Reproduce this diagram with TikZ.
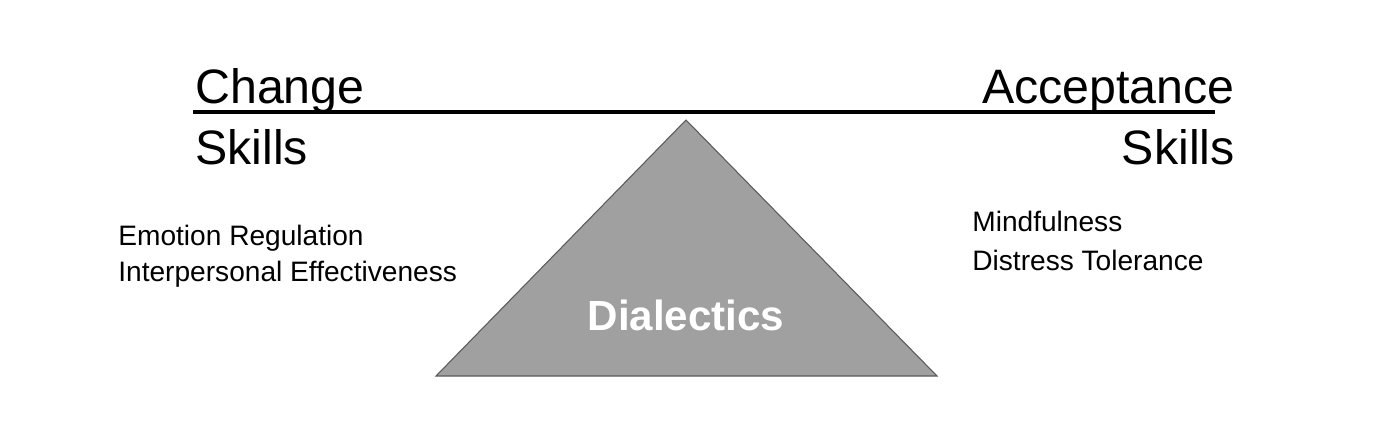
\documentclass[tikz,border=0pt]{standalone}
\usepackage{fontspec}
\setmainfont{Liberation Sans}
\usetikzlibrary{positioning}
\begin{document}
\begin{tikzpicture}[x=0.02cm, y=-0.02cm,
    big/.style={inner sep=0pt, font=\fontsize{27.5}{30}\selectfont},
    small/.style={inner sep=0pt, font=\fontsize{16}{19}\selectfont}
]
\useasboundingbox (0,0) rectangle (1376,440);
% beam and fulcrum
\coordinate (beamL) at (193,112);
\coordinate (beamR) at (1215,112);
\draw[line width=2.5pt] (beamL) -- (beamR);
\coordinate (apex) at (686,120);
\coordinate (baseL) at (436,376);
\coordinate (baseR) at (937,376);
\draw[fill={rgb,255:red,160;green,160;blue,160}, draw={rgb,255:red,90;green,90;blue,90}, line width=0.6pt] (apex) -- (baseR) -- (baseL) -- cycle;
\node[inner sep=0pt, anchor=base, text=white, font=\fontsize{24}{28}\selectfont\bfseries] (dial) at (686,330) {Dialectics};
% left side
\node[big, anchor=base west] (change) at (195,103) {Change};
\node[big, anchor=base west] (skillsL) at (195,164) {Skills};
\node[small, anchor=base west] (emo) at (118,245) {Emotion Regulation};
\node[small, anchor=base west] (inter) at (118,281) {Interpersonal Effectiveness};
% right side
\node[big, anchor=base east] (accept) at (1235,103) {Acceptance};
\node[big, anchor=base east] (skillsR) at (1235,164) {Skills};
\node[small, anchor=base west] (mind) at (972,231) {Mindfulness};
\node[small, anchor=base west] (dist) at (972,270) {Distress Tolerance};
\end{tikzpicture}
\end{document}
